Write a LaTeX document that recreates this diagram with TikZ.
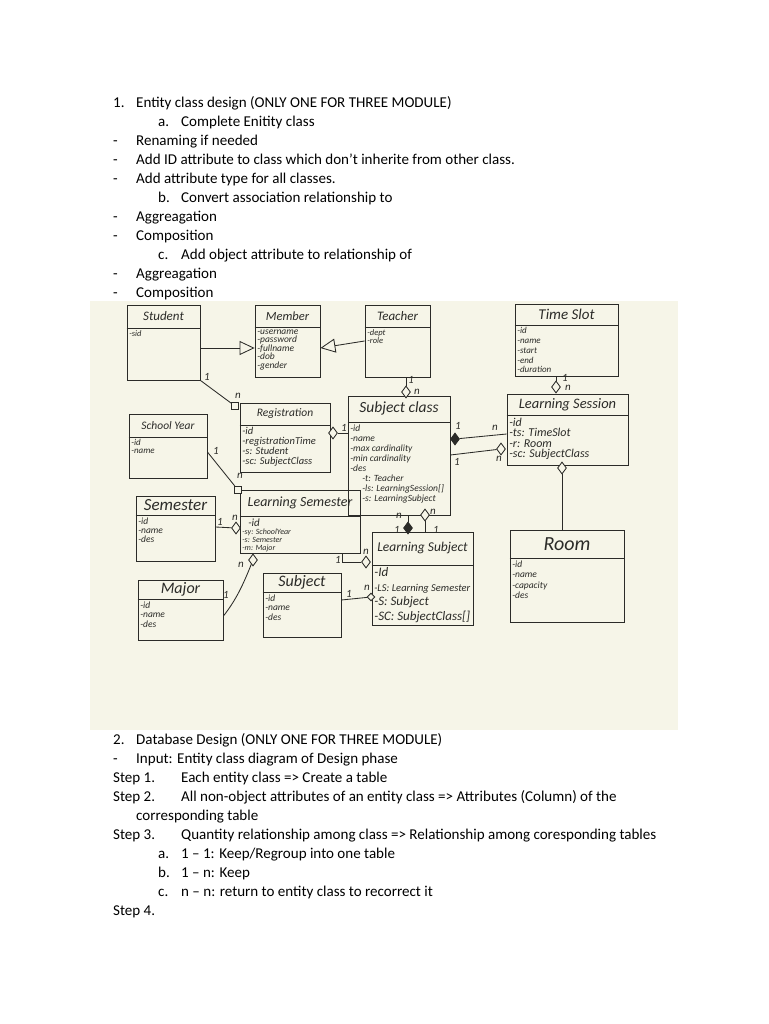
\documentclass[tikz,border=0pt]{standalone}
\usepackage{fontspec}
\setmainfont{Carlito}
\usepackage{xcolor}
\usetikzlibrary{positioning,arrows.meta,shapes.geometric,fit}
\definecolor{paper}{HTML}{F6F5E8}
\definecolor{ink}{HTML}{2B2B28}

% name, corner, corner, divider y, title size, title, attr size, attr leading, attrs
\newcommand{\umlclass}[9]{
  \node[classbox, fit={#2 #3}] (#1) {};
  \coordinate (#1-div) at (#1.north |- 0,#4);
  \draw[wire] (#1.west |- #1-div) -- (#1.east |- #1-div);
  \path (#1.north) -- (#1-div) node[midway, hand, font=\fontsize{#5}{#5}\selectfont\itshape] (#1-title) {#6};
  \node[hand, anchor=north west, align=left, inner sep=2.5pt,
        font=\fontsize{#7}{#8}\selectfont\itshape] (#1-attrs) at (#1.west |- #1-div) {#9};
}

\begin{document}
\begin{tikzpicture}[
  x=1pt, y=-1pt,
  doc/.style={anchor=base west, inner sep=0pt, text=black, font=\fontsize{15.03}{19}\selectfont},
  wire/.style={draw=ink, line width=0.85pt},
  classbox/.style={wire, rectangle, inner sep=0pt},
  hand/.style={text=ink, inner sep=0pt},
  mult/.style={hand, font=\fontsize{11}{11}\selectfont\itshape},
  odiam/.style={wire, diamond, fill=paper, inner sep=0pt, minimum width=9pt, minimum height=12pt},
  fdiam/.style={wire, diamond, fill=ink, inner sep=0pt, minimum width=9pt, minimum height=12pt},
  osq/.style={wire, rectangle, fill=paper, inner sep=0pt, minimum size=7pt},
  inherit/.style={wire, -{Triangle[open, fill=paper, length=15pt, width=14pt]}},
]
\useasboundingbox (0,0) rectangle (768,1024);

% page text, top
\node[doc] (t1n) at (113,107.5) {1.};
\node[doc] (t1) at (136,107.5) {Entity class design (ONLY ONE FOR THREE MODULE)};
\node[doc] (t2n) at (158,126.5) {a.};
\node[doc] (t2) at (181,126.5) {Complete Enitity class};
\node[doc] (t3n) at (113,145.5) {-};
\node[doc] (t3) at (136,145.5) {Renaming if needed};
\node[doc] (t4n) at (113,164.5) {-};
\node[doc] (t4) at (136,164.5) {Add ID attribute to class which don’t inherite from other class.};
\node[doc] (t5n) at (113,183.5) {-};
\node[doc] (t5) at (136,183.5) {Add attribute type for all classes.};
\node[doc] (t6n) at (158,202.5) {b.};
\node[doc] (t6) at (181,202.5) {Convert association relationship to};
\node[doc] (t7n) at (113,221.5) {-};
\node[doc] (t7) at (136,221.5) {Aggreagation};
\node[doc] (t8n) at (113,240.5) {-};
\node[doc] (t8) at (136,240.5) {Composition};
\node[doc] (t9n) at (158,259.5) {c.};
\node[doc] (t9) at (181,259.5) {Add object attribute to relationship of};
\node[doc] (t10n) at (113,278.5) {-};
\node[doc] (t10) at (136,278.5) {Aggreagation};
\node[doc] (t11n) at (113,297) {-};
\node[doc] (t11) at (136,297) {Composition};

% sketch background
\fill[paper] (90,301) rectangle (678,730);

% classes
\umlclass{student}{(127,305)}{(200,380)}{328}{13}{Student}{8.5}{8}{-sid}
\umlclass{member}{(255,305)}{(320,377)}{327}{12.5}{Member}{9.5}{8.5}{-username\\-password\\-fullname\\-dob\\-gender}
\umlclass{teacher}{(365,305)}{(430,377)}{327}{13}{Teacher}{8.5}{8}{-dept\\-role}
\umlclass{timeslot}{(515,304)}{(618,376)}{325}{15}{Time Slot}{9}{9.7}{-id\\-name\\-start\\-end\\-duration}
\umlclass{learnsession}{(507,394)}{(628,465)}{415}{14.5}{Learning Session}{12}{10.5}{-id\\-ts: TimeSlot\\-r: Room\\-sc: SubjectClass}
\umlclass{subjectclass}{(348,396)}{(450,515)}{422}{15.5}{Subject class}{9.5}{10}{-id\\-name\\-max cardinality\\-min cardinality\\-des\\\hspace{12pt}-t: Teacher\\\hspace{12pt}-ls: LearningSession[]\\\hspace{12pt}-s: LearningSubject}
\umlclass{registration}{(240,403)}{(330,472)}{425}{11.5}{Registration}{10.5}{10}{-id\\-registrationTime\\-s: Student\\-sc: SubjectClass}
\umlclass{schoolyear}{(129,414)}{(207,478)}{437}{11.5}{School Year}{9}{8}{-id\\-name}
\umlclass{semester}{(136,496)}{(215,561)}{515}{17}{Semester}{9.5}{9}{-id\\-name\\-des}
\umlclass{learnsemester}{(240,490)}{(360,553)}{516}{14}{Learning Semester}{8}{8}{\hspace{6pt}{\fontsize{11}{11}\selectfont -id}\\-sy: SchoolYear\\-s: Semester\\-m: Major}
\umlclass{major}{(138,580)}{(223,640)}{599}{16}{Major}{9.5}{9.5}{-id\\-name\\-des}
\umlclass{subject}{(263,573)}{(341,637)}{592}{16}{Subject}{9.5}{9.5}{-id\\-name\\-des}
\umlclass{learnsubject}{(372,532)}{(473,625)}{565}{13.5}{Learning Subject}{13}{14.5}{-Id\\{\fontsize{10.5}{14.5}\selectfont -LS: Learning Semester}\\-S: Subject\\-SC: SubjectClass[]}
\umlclass{room}{(510,530)}{(624,622)}{558}{20}{Room}{9.5}{10.4}{-id\\-name\\-capacity\\-des}

% end marks
\node[osq] (regsq) at (235,406) {};
\node[osq] (semsq) at (238,490) {};
\node[odiam] (regdiam) at (333,433) {};
\node[odiam] (teachdiam) at (406,392) {};
\node[odiam] (slotdiam) at (556,387) {};
\node[fdiam] (compdiam) at (455,439) {};
\node[odiam] (sessdiam) at (501,449) {};
\node[odiam] (roomdiam) at (562,468) {};
\node[fdiam] (lsubdiam) at (408,528) {};
\node[odiam] (scdiam) at (425,515) {};
\node[odiam] (lsemdiam) at (366,562) {};
\node[odiam, minimum height=8pt, minimum width=8pt] (subjdiam) at (371,597) {};
\node[odiam] (semdiam) at (236,528) {};
\node[odiam] (majdiam) at (253,560) {};

% connectors
\draw[inherit] (student.east |- 0,348) -- (member.west |- 0,348);
\draw[inherit] (teacher.west |- 0,341) -- (member.east |- 0,348);
\draw[wire] (student.south east) -- (regsq);
\draw[wire] (schoolyear.east |- 0,452) -- (semsq);
\draw[wire] (regdiam) -- (subjectclass.west |- regdiam);
\draw[wire] (teacher.south -| teachdiam) -- (teachdiam);
\draw[wire] (timeslot.south -| slotdiam) -- (slotdiam);
\draw[wire] (compdiam) -- (learnsession.west |- 0,434);
\draw[wire] (subjectclass.east |- 0,455) -- (sessdiam);
\draw[wire] (roomdiam) -- (room.north -| roomdiam);
\draw[wire] (subjectclass.south -| lsubdiam) -- (lsubdiam);
\draw[wire] (scdiam) -- (learnsubject.north -| scdiam);
\draw[wire] (learnsemester.south -| 342,0) |- (lsemdiam);
\draw[wire] (subject.east |- 0,600) -- (subjdiam);
\draw[wire] (semester.east |- 0,527) -- (semdiam);
\draw[wire] (major.east |- 0,616) .. controls (236,600) and (243,585) .. (majdiam);

% multiplicities
\node[mult] (m1) at (207,377) {1};
\node[mult] (m2) at (238,396) {n};
\node[mult] (m3) at (216,451) {1};
\node[mult] (m4) at (240,476) {n};
\node[mult] (m5) at (344,428) {1};
\node[mult] (m6) at (411,380) {1};
\node[mult] (m7) at (417,392) {n};
\node[mult] (m8) at (565,378) {1};
\node[mult] (m9) at (568,388) {n};
\node[mult] (m10) at (458,426) {1};
\node[mult] (m11) at (495,428) {n};
\node[mult] (m12) at (457,462) {1};
\node[mult] (m13) at (499,459) {n};
\node[mult] (m14) at (399,516) {n};
\node[mult] (m15) at (397,530) {1};
\node[mult] (m16) at (433,512) {n};
\node[mult] (m17) at (436,530) {1};
\node[mult] (m18) at (338,560) {1};
\node[mult] (m19) at (366,552) {n};
\node[mult] (m20) at (349,594) {1};
\node[mult] (m21) at (367,588) {n};
\node[mult] (m22) at (220,522) {1};
\node[mult] (m23) at (235,518) {n};
\node[mult] (m24) at (241,565) {n};
\node[mult] (m25) at (226,595) {1};

% page text, bottom
\node[doc] (b1n) at (113,744) {2.};
\node[doc] (b1) at (136,744) {Database Design (ONLY ONE FOR THREE MODULE)};
\node[doc] (b2n) at (113,763) {-};
\node[doc] (b2) at (136,763) {Input: Entity class diagram of Design phase};
\node[doc] (b3n) at (113,782) {Step 1.};
\node[doc] (b3) at (181,782) {Each entity class => Create a table};
\node[doc] (b4n) at (113,801) {Step 2.};
\node[doc] (b4) at (181,801) {All non-object attributes of an entity class => Attributes (Column) of the};
\node[doc] (b5) at (136,820) {corresponding table};
\node[doc] (b6n) at (113,839) {Step 3.};
\node[doc] (b6) at (181,839) {Quantity relationship among class => Relationship among coresponding tables};
\node[doc] (b7n) at (158,858) {a.};
\node[doc] (b7) at (181,858) {1 – 1: Keep/Regroup into one table};
\node[doc] (b8n) at (158,877) {b.};
\node[doc] (b8) at (181,877) {1 – n: Keep};
\node[doc] (b9n) at (158,896) {c.};
\node[doc] (b9) at (181,896) {n – n: return to entity class to recorrect it};
\node[doc] (b10n) at (113,915) {Step 4.};
\end{tikzpicture}
\end{document}
